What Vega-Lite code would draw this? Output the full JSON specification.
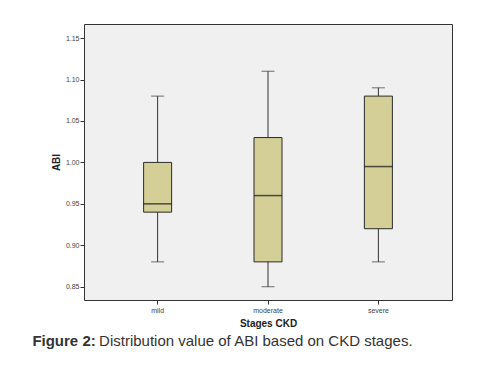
{
  "$schema": "https://vega.github.io/schema/vega-lite/v6.json",
  "width": 368,
  "height": 276,
  "autosize": {"type": "none"},
  "padding": {"left": 84, "top": 24, "right": 42, "bottom": 65},
  "background": "white",
  "title": {
    "text": "Figure 2:",
    "subtitle": "\u200b\u00a0\u00a0\u00a0\u00a0\u00a0\u00a0\u00a0\u00a0\u00a0\u00a0\u00a0\u00a0\u00a0\u00a0\u00a0\u00a0Distribution value of ABI based on CKD stages.",
    "orient": "bottom",
    "anchor": "start",
    "dx": -19,
    "offset": 6,
    "font": "Liberation Sans",
    "fontSize": 15,
    "fontWeight": "bold",
    "color": "#333333",
    "subtitleFont": "Liberation Sans",
    "subtitleFontSize": 15,
    "subtitleFontWeight": "normal",
    "subtitleColor": "#333333",
    "subtitlePadding": -15
  },
  "data": {
    "values": [
      {"stage": "mild", "min": 0.88, "q1": 0.94, "median": 0.95, "q3": 1.0, "max": 1.08},
      {"stage": "moderate", "min": 0.85, "q1": 0.88, "median": 0.96, "q3": 1.03, "max": 1.11},
      {"stage": "severe", "min": 0.88, "q1": 0.92, "median": 0.995, "q3": 1.08, "max": 1.09}
    ]
  },
  "encoding": {
    "x": {
      "field": "stage",
      "type": "nominal",
      "sort": ["mild", "moderate", "severe"],
      "scale": {"type": "band", "paddingInner": 0, "paddingOuter": 0.167},
      "axis": {
        "title": "Stages CKD",
        "labelAngle": 0,
        "domain": false,
        "tickSize": 4,
        "tickColor": "#333333",
        "labelPadding": 2,
        "labelFontSize": 7,
        "labelFont": "Liberation Sans",
        "labelColor": "#444444",
        "titleFont": "Liberation Sans",
        "titleFontSize": 10,
        "titleFontWeight": "bold",
        "titleColor": "#222222",
        "titlePadding": 5
      }
    }
  },
  "layer": [
    {
      "mark": {"type": "rule", "color": "#333333", "strokeWidth": 1},
      "encoding": {
        "y": {
          "field": "min",
          "type": "quantitative",
          "scale": {"domain": [0.834, 1.167], "nice": false, "zero": false},
          "axis": {
            "title": "ABI",
            "values": [0.85, 0.9, 0.95, 1.0, 1.05, 1.1, 1.15],
            "format": ".2f",
            "grid": false,
            "domain": false,
            "tickSize": 4,
            "tickColor": "#333333",
            "labelPadding": 1,
            "labelFontSize": 7,
            "labelFont": "Liberation Sans",
            "labelColor": "#444444",
            "titleFont": "Liberation Sans",
            "titleFontSize": 10,
            "titleFontWeight": "bold",
            "titleColor": "#222222",
            "titlePadding": 4
          }
        },
        "y2": {"field": "max"}
      }
    },
    {
      "mark": {"type": "bar", "size": 28, "fill": "#d3cf97", "stroke": "#2a2a2a", "strokeWidth": 1},
      "encoding": {
        "y": {"field": "q1", "type": "quantitative"},
        "y2": {"field": "q3"}
      }
    },
    {
      "mark": {"type": "tick", "size": 28, "thickness": 1.5, "color": "#111111"},
      "encoding": {"y": {"field": "median", "type": "quantitative"}}
    },
    {
      "mark": {"type": "tick", "size": 13, "thickness": 1, "color": "#333333"},
      "encoding": {"y": {"field": "min", "type": "quantitative"}}
    },
    {
      "mark": {"type": "tick", "size": 13, "thickness": 1, "color": "#333333"},
      "encoding": {"y": {"field": "max", "type": "quantitative"}}
    }
  ],
  "config": {
    "view": {"fill": "#f0f0f0", "stroke": "#333333", "strokeWidth": 1},
    "tick": {"bandSize": 13}
  }
}
